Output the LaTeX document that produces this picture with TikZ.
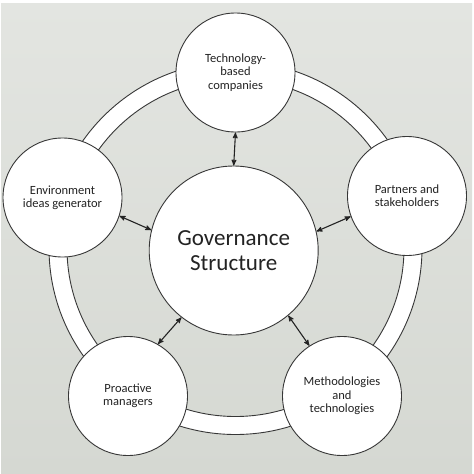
\documentclass[tikz,border=0pt]{standalone}
\usepackage{fontspec}
\setmainfont{Carlito}
\usepackage{tikz}
\usetikzlibrary{shapes.geometric, arrows}

\definecolor{bgtop}{RGB}{227,229,225}
\definecolor{bgbot}{RGB}{213,216,210}
\definecolor{rim}{RGB}{55,55,55}
\definecolor{ink}{RGB}{35,35,35}

\tikzset{
	ball/.style={circle, draw=rim, line width=0.9pt, fill=white, inner sep=0pt,
		minimum size=119pt, align=center, text=ink, font=\fontsize{12.5}{13.4}\selectfont},
	hub/.style={circle, draw=rim, line width=0.9pt, fill=white, inner sep=0pt,
		minimum size=169pt, align=center, text=ink, font=\fontsize{23}{24.5}\selectfont},
	link/.style={<->, >=stealth', line width=1.1pt, color=ink}
}

\begin{document}
\begin{tikzpicture}[x=1pt, y=-1pt]
	\useasboundingbox (0,0) rectangle (474,474);
	\fill[white] (0,0) rectangle (474,474);
	\shade[top color=bgtop, bottom color=bgbot] (1,3) rectangle (472,474);
	% ring behind the circles
	\filldraw[fill=white, draw=rim, line width=0.9pt, even odd rule]
		(235.5,248) circle (186.5) (235.5,248) circle (168.5);
%\begin{scriptsize}
	\node[hub] (gov) at (233.7,250.5) {Governance\\Structure};
	\node[ball] (tech) at (235.5,72.5) {Technology-\\based\\companies};
	\node[ball] (part) at (407,196) {Partners and\\stakeholders};
	\node[ball] (meth) at (342,396) {Methodologies\\and\\technologies};
	\node[ball] (pro) at (128,396) {Proactive\\managers};
	\node[ball] (env) at (62.5,197.5) {Environment\\ideas generator};
%\end{scriptsize}
	\draw[link] (tech.-90) -- (gov.90);
	\draw[link] (part.200) -- (gov.13);
	\draw[link] (meth.123) -- (gov.-50);
	\draw[link] (pro.60) -- (gov.232);
	\draw[link] (env.-18) -- (gov.166);
\end{tikzpicture}
\end{document}
